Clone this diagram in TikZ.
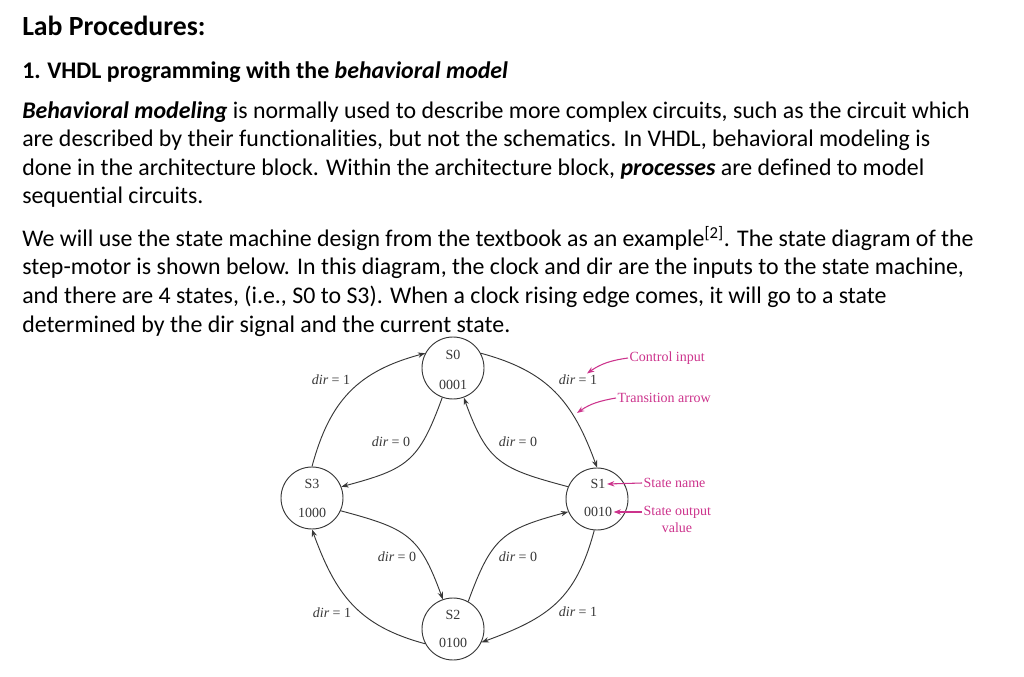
\documentclass[tikz,border=0pt]{standalone}
\usepackage{fontspec}
\setmainfont{Carlito}[Ligatures={NoCommon}]
\newfontfamily\dfont{Liberation Serif}
\usetikzlibrary{arrows.meta,calc}
\definecolor{pinkc}{RGB}{204,51,140}
\definecolor{linec}{RGB}{55,55,55}
\begin{document}
\begin{tikzpicture}[x=0.75pt,y=0.75pt,
 txt/.style={anchor=base west, inner sep=0, font=\fontsize{17.9}{21}\selectfont},
 ttl/.style={anchor=base west, inner sep=0, font=\fontsize{20.8}{24}\selectfont\bfseries},
 state/.style={circle, draw=linec, line width=0.7pt, minimum size=46.5pt, inner sep=0},
 stxt/.style={font=\dfont\fontsize{10.5}{12}\selectfont, text=linec, inner sep=1pt},
 lbl/.style={font=\dfont\fontsize{10.5}{12}\selectfont, text=linec, inner sep=1pt},
 trans/.style={draw=linec, line width=0.7pt, -{Stealth[length=5.5pt,width=4pt]}},
 ann/.style={font=\dfont\fontsize{10.5}{12}\selectfont, text=pinkc, inner sep=1pt},
 annarr/.style={draw=pinkc, line width=0.8pt, -{Stealth[length=5.5pt,width=4pt]}}
]
\useasboundingbox (0,0) rectangle (1024,-677);
% text
\node[ttl] (t0) at (22,-36) {Lab Procedures:};
\node[txt,font=\fontsize{17.9}{21}\selectfont\bfseries] (t1) at (22,-79) {1.};
\node[txt,font=\fontsize{17.9}{21}\selectfont\bfseries] (t1b) at (47,-79) {VHDL programming with the \textit{behavioral model}};
\node[txt] (p1) at (22,-118.5) {\textbf{\textit{Behavioral modeling}} is normally used to describe more complex circuits, such as the circuit which};
\node[txt] (p2) at (22,-147) {are described by their functionalities, but not the schematics. In VHDL, behavioral modeling is};
\node[txt] (p3) at (22,-175.5) {done in the architecture block. Within the architecture block, \textbf{\textit{processes}} are defined to model};
\node[txt] (p4) at (22,-204) {sequential circuits.};
\node[txt] (q1) at (22,-246.5) {We will use the state machine design from the textbook as an example\textsuperscript{[2]}. The state diagram of the};
\node[txt] (q2) at (22,-275) {step-motor is shown below. In this diagram, the clock and dir are the inputs to the state machine,};
\node[txt] (q3) at (22,-303.5) {and there are 4 states, (i.e., S0 to S3). When a clock rising edge comes, it will go to a state};
\node[txt] (q4) at (22,-332) {determined by the dir signal and the current state.};
% states
\node[state] (S0) at (453,-368) {};
\node[state] (S3) at (312,-498) {};
\node[state] (S1) at (597,-499) {};
\node[state] (S2) at (453,-629) {};
\node[stxt] (n0) at (453,-355) {S0};
\node[stxt] (v0) at (453,-385) {0001};
\node[stxt] (n3) at (312,-484) {S3};
\node[stxt] (v3) at (312,-513) {1000};
\node[stxt] (n1) at (598,-484) {S1};
\node[stxt] (v1) at (598,-512) {0010};
\node[stxt] (n2) at (453,-615) {S2};
\node[stxt] (v2) at (453,-643) {0100};
% labels
\node[lbl] (l30) at (331,-380) {\textit{dir} = 1};
\node[lbl] (l03) at (391,-442) {\textit{dir} = 0};
\node[lbl] (l10) at (518,-442) {\textit{dir} = 0};
\node[lbl] (l01) at (578,-380) {\textit{dir} = 1};
\node[lbl] (l32) at (397,-557) {\textit{dir} = 0};
\node[lbl] (l21) at (518,-557) {\textit{dir} = 0};
\node[lbl] (l12) at (578,-612) {\textit{dir} = 1};
\node[lbl] (l23) at (332,-613) {\textit{dir} = 1};
% transitions
\draw[trans] (S3.90) to[out=75,in=195,looseness=1.1] (S0.152);
\draw[trans] (S0.250) to[out=250,in=15,looseness=1.3] (S3.21);
\draw[trans] (S1.157) to[out=165,in=290,looseness=1.3] (S0.290);
\draw[trans] (S0.28) to[out=-15,in=110,looseness=1.1] (S1.90);
\draw[trans] (S3.-24) to[out=-15,in=110,looseness=1.3] (S2.109);
\draw[trans] (S2.61) to[out=70,in=195,looseness=1.3] (S1.204);
\draw[trans] (S1.265) to[out=255,in=20,looseness=1.15] (S2.335);
\draw[trans] (S2.208) to[out=165,in=290,looseness=1.1] (S3.270);
% annotations
\node[ann,anchor=west] (ci) at (628,-358) {Control input};
\node[ann,anchor=west] (ta) at (616,-398) {Transition arrow};
\node[ann,anchor=west] (sn) at (642,-483) {State name};
\node[ann,anchor=west] (so) at (642,-512) {State output};
\node[ann] (sov) at (677,-528) {value};
\coordinate (tc) at (577,-413);
\draw[annarr] (ci.west) to[out=188,in=35] ($(l01.north)+(9,0)$);
\draw[annarr] (ta.west) to[out=190,in=35] (tc);
\draw[annarr] (sn.west) -- (n1.east);
\draw[annarr] (so.west) -- (v1.east);
\end{tikzpicture}
\end{document}
